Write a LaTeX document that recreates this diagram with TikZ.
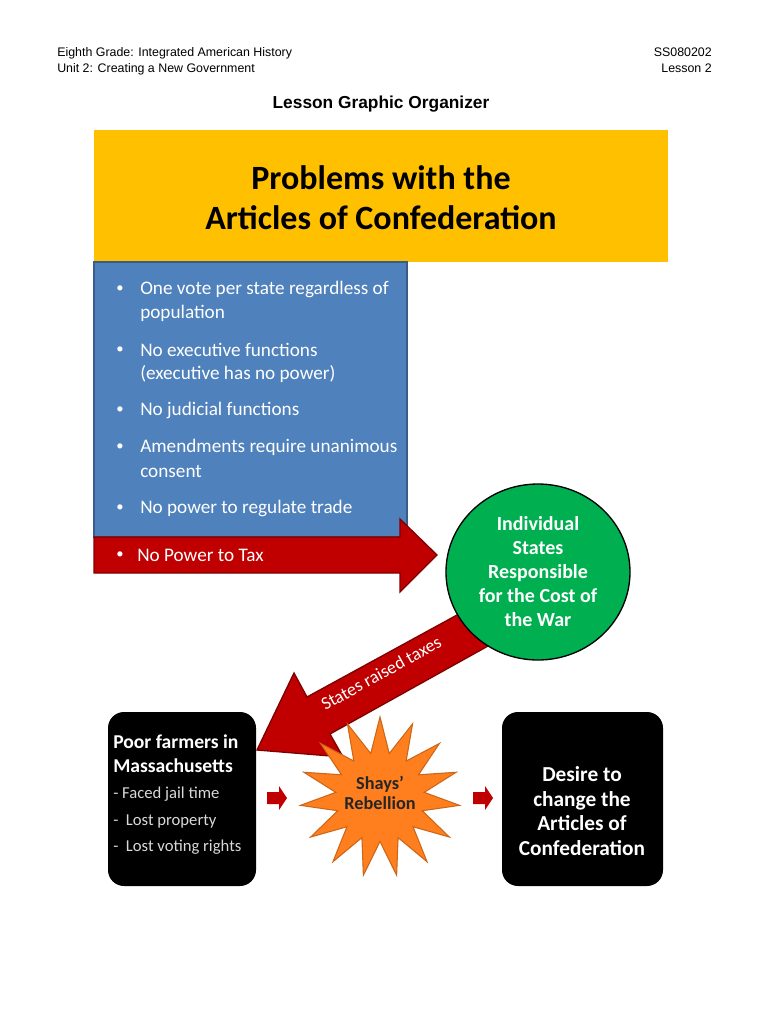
\documentclass[tikz,border=0pt]{standalone}
\usepackage{fontspec}
\setmainfont{Carlito}
\newfontfamily\arial{Liberation Sans}
\usetikzlibrary{shapes.geometric}
\definecolor{yel}{HTML}{FFC000}
\definecolor{blu}{HTML}{4F81BD}
\definecolor{bluD}{HTML}{385D8A}
\definecolor{red}{HTML}{C00000}
\definecolor{redD}{HTML}{7F0000}
\definecolor{grn}{HTML}{00B050}
\definecolor{org}{HTML}{FF7F1E}
\tikzset{
 hdr/.style={font=\arial\fontsize{9.3}{11}\selectfont, inner sep=0pt},
 wt/.style={text=white, inner sep=0pt, anchor=west, font=\fontsize{14.4}{16}\selectfont},
 blk/.style={fill=black, rounded corners=12pt},
 sarrow/.style={fill=red, draw=none},
}
\begin{document}
\begin{tikzpicture}[x=0.75pt,y=-0.75pt]
\useasboundingbox (0,0) rectangle (768,1024);
\fill[white] (0,0) rectangle (768,1024);
% header
\node[hdr,anchor=base west] (h1) at (57,57) {Eighth Grade: Integrated American History};
\node[hdr,anchor=base west] (h2) at (57,73) {Unit 2: Creating a New Government};
\node[hdr,anchor=base east] (h3) at (712,57) {SS080202};
\node[hdr,anchor=base east] (h4) at (712,73) {Lesson 2};
\node[font=\arial\bfseries\fontsize{13}{14}\selectfont,inner sep=0pt] (lg) at (381,104) {Lesson Graphic Organizer};
% yellow
\fill[yel] (94,130) rectangle (668,262);
\node[font=\bfseries\fontsize{25.5}{30}\selectfont,align=center] (title) at (381,198) {Problems with the\\Articles of Confederation};
% blue
\draw[fill=blu,draw=bluD,line width=1pt] (94,262) rectangle (407,537);
\foreach \y in {289,350,410,447,508}
  \node[wt,font=\fontsize{11}{12}\selectfont] at (116,\y) {\textbullet};
\node[wt] (b1) at (140,289) {One vote per state regardless of};
\node[wt] (b1b) at (140,313) {population};
\node[wt] (b2) at (140,350) {No executive functions};
\node[wt] (b2b) at (140,374) {(executive has no power)};
\node[wt] (b3) at (140,410) {No judicial functions};
\node[wt] (b4) at (140,447) {Amendments require unanimous};
\node[wt] (b4b) at (140,471) {consent};
\node[wt] (b5) at (140,508) {No power to regulate trade};
% red arrow
\draw[fill=red,draw=redD,line width=1pt] (94,537) -- (400,537) -- (400,519) -- (437,555) -- (400,592) -- (400,573) -- (94,573) -- cycle;
\node[wt,font=\fontsize{11}{12}\selectfont] at (116,555) {\textbullet};
\node[wt] (tax) at (137,555) {No Power to Tax};
% diagonal arrow
\draw[fill=red,draw=redD,line width=1pt] (488,646) -- (330,734) -- (343,757) -- (257,750) -- (294,673) -- (307,697) -- (468,609) -- cycle;
\node[text=white,rotate=29,inner sep=0pt,font=\fontsize{13.5}{14}\selectfont] (srt) at (381,673) {States raised taxes};
% circle
\node[ellipse,fill=grn,draw=black,line width=1pt,minimum width=138pt,minimum height=132pt,inner sep=0pt,text=white,font=\bfseries\fontsize{15}{18}\selectfont,align=center] (circ) at (538,572) {Individual\\States\\Responsible\\for the Cost of\\the War};
% left box
\fill[blk] (108,712) rectangle (256,886);
\node[wt,font=\bfseries\fontsize{14.7}{15}\selectfont] (pf1) at (113,742) {Poor farmers in};
\node[wt,font=\bfseries\fontsize{14.7}{15}\selectfont] (pf2) at (113,766) {Massachusetts};
\node[wt,text=white!85!black,font=\fontsize{12.5}{14}\selectfont] (i1) at (113,794) {- Faced jail time};
\node[wt,text=white!85!black,font=\fontsize{12.5}{14}\selectfont] (i2) at (113,821) {-\ \ Lost property};
\node[wt,text=white!85!black,font=\fontsize{12.5}{14}\selectfont] (i3) at (113,847) {-\ \ Lost voting rights};
% small arrows
\fill[sarrow] (267,792) -- (279,792) -- (279,786) -- (287,798) -- (279,810) -- (279,804) -- (267,804) -- cycle;
\fill[sarrow] (473,792) -- (485,792) -- (485,786) -- (493,798) -- (485,810) -- (485,804) -- (473,804) -- cycle;
% star
\node[star,star points=15,star point ratio=1.8,minimum size=120pt,fill=org,draw=org!80!black,line width=0.8pt,inner sep=0pt] (star) at (380,797) {};
\node[font=\bfseries\fontsize{13.7}{15}\selectfont,align=center,text=black!85] (shays) at (380,793) {Shays'\\Rebellion};
% right box
\fill[blk] (502,712) rectangle (663,886);
\node[text=white,font=\bfseries\fontsize{16}{18.5}\selectfont,align=center] (des) at (582,811) {Desire to\\change the\\Articles of\\Confederation};
\end{tikzpicture}
\end{document}
